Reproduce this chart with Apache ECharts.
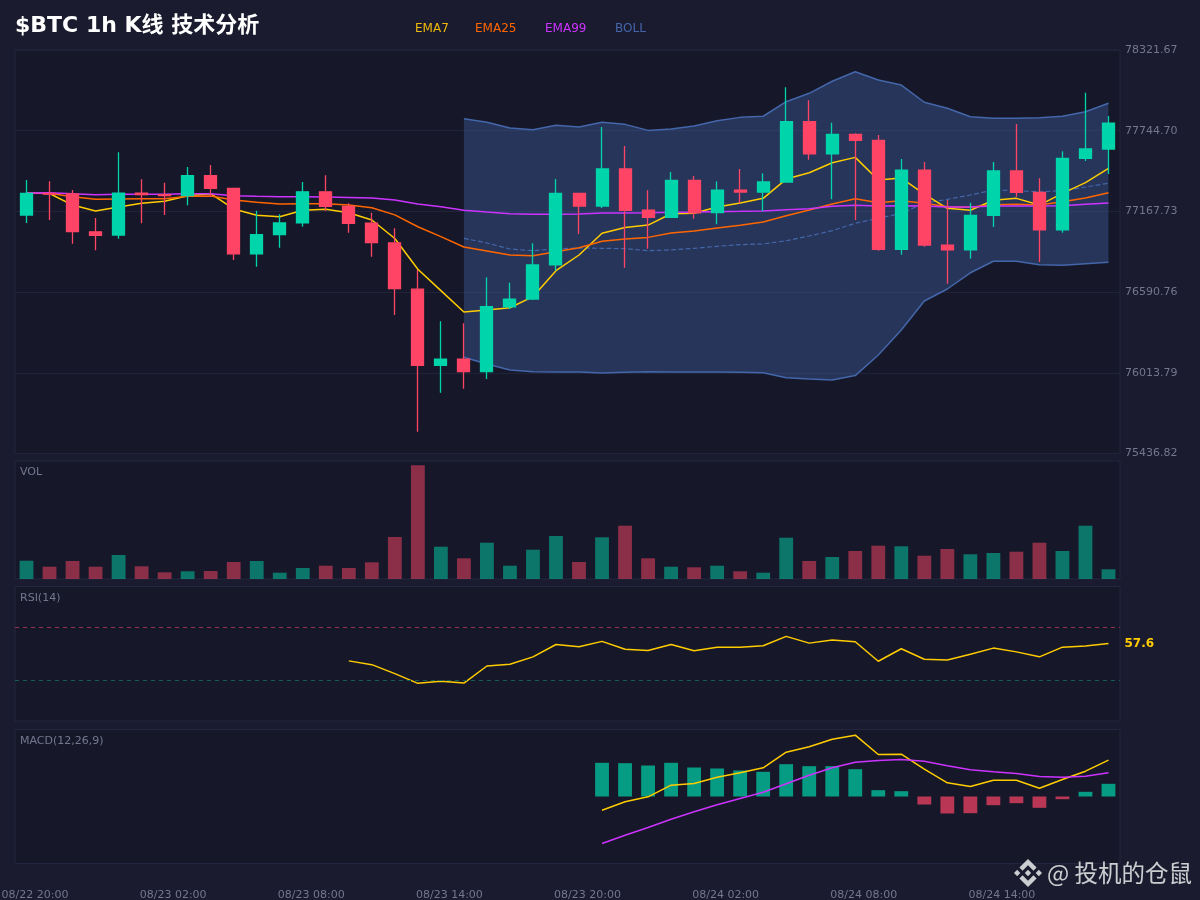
<!DOCTYPE html>
<html><head><meta charset="utf-8">
<style>html,body{margin:0;padding:0;background:#1a1b2e}#c{width:1200px;height:900px}</style>
<script src="https://cdn.jsdelivr.net/npm/echarts@6/dist/echarts.min.js"></script>
</head><body><div id="c"></div>
<script>
const categories = ["08/22 20:00","08/22 21:00","08/22 22:00","08/22 23:00","08/23 00:00","08/23 01:00","08/23 02:00","08/23 03:00","08/23 04:00","08/23 05:00","08/23 06:00","08/23 07:00","08/23 08:00","08/23 09:00","08/23 10:00","08/23 11:00","08/23 12:00","08/23 13:00","08/23 14:00","08/23 15:00","08/23 16:00","08/23 17:00","08/23 18:00","08/23 19:00","08/23 20:00","08/23 21:00","08/23 22:00","08/23 23:00","08/24 00:00","08/24 01:00","08/24 02:00","08/24 03:00","08/24 04:00","08/24 05:00","08/24 06:00","08/24 07:00","08/24 08:00","08/24 09:00","08/24 10:00","08/24 11:00","08/24 12:00","08/24 13:00","08/24 14:00","08/24 15:00","08/24 16:00","08/24 17:00","08/24 18:00","08/24 19:00"];
const opens = [77142,77297,77292,77022,76999,77299,77288,77280,77423,77333,76865,77001,77085,77308,77204,77083,76942,76612,76067,76112,76022,76486,76541,76785,77297,77206,77471,77176,77126,77390,77160,77319,77306,77378,77809,77580,77719,77676,76897,77462,76927,76892,77140,77457,77304,77035,77547,77614];
const closes = [77297,77291,77023,76997,77299,77287,77280,77423,77333,76865,77001,77085,77308,77204,77083,76944,76615,76067,76112,76022,76486,76541,76785,77297,77206,77471,77176,77126,77390,77158,77319,77306,77378,77809,77580,77719,77676,76897,77462,76927,76892,77140,77457,77304,77035,77547,77614,77798];
const lows = [77085,77106,76937,76890,76973,77083,77142,77211,77273,76820,76772,76908,77058,77173,77015,76844,76427,75593,75872,75900,75969,76470,76534,76744,77006,77192,76765,76901,77124,77116,77076,77226,77168,77378,77537,77254,77106,76887,76858,76915,76651,76830,77056,77273,76806,77015,77528,77435];
const highs = [77392,77383,77321,77121,77590,77397,77373,77485,77499,77335,77173,77147,77378,77426,77226,77158,77047,76749,76382,76368,76697,76658,76940,77399,77301,77771,77635,77319,77449,77421,77383,77471,77440,78055,77962,77802,77726,77714,77542,77521,77249,77230,77521,77793,77404,77597,78016,77850];
const ema7 = [77299,77296,77213,77171,77199,77226,77240,77280,77294,77185,77140,77130,77176,77183,77158,77106,76974,76754,76601,76448,76463,76479,76558,76744,76856,77011,77053,77070,77151,77154,77199,77228,77261,77399,77444,77516,77554,77392,77406,77292,77190,77176,77247,77261,77213,77297,77373,77476];
const ema25 = [77299,77297,77273,77254,77256,77258,77258,77276,77278,77249,77233,77221,77223,77223,77213,77194,77143,77058,76987,76913,76885,76856,76851,76880,76908,76955,76970,76982,77013,77028,77049,77068,77092,77136,77178,77221,77258,77230,77244,77226,77201,77197,77216,77218,77213,77237,77263,77301];
const ema99 = [77299,77301,77294,77287,77290,77290,77290,77294,77294,77280,77276,77273,77273,77271,77268,77263,77249,77221,77201,77176,77163,77151,77147,77147,77149,77156,77156,77158,77161,77163,77166,77168,77171,77179,77187,77204,77211,77206,77208,77206,77199,77199,77206,77206,77206,77208,77218,77228];
const _ = null;
const bollUpper = [_,_,_,_,_,_,_,_,_,_,_,_,_,_,_,_,_,_,_,77830,77805,77764,77752,77783,77771,77805,77790,77747,77757,77778,77816,77840,77848,77952,78012,78098,78166,78107,78071,77948,77905,77845,77833,77833,77838,77848,77880,77941];
const bollMid = [_,_,_,_,_,_,_,_,_,_,_,_,_,_,_,_,_,_,_,76975,76942,76899,76887,76899,76906,76904,76901,76887,76892,76904,76918,76930,76935,76958,76992,77030,77083,77118,77154,77226,77254,77285,77321,77316,77308,77316,77342,77369];
const bollLower = [_,_,_,_,_,_,_,_,_,_,_,_,_,_,_,_,_,_,_,76125,76077,76034,76022,76019,76019,76012,76017,76021,76019,76019,76019,76017,76014,75979,75969,75962,75994,76141,76320,76527,76613,76729,76811,76811,76787,76782,76794,76804];
const volumes = [183,123,180,123,240,127,67,77,80,170,180,63,110,133,110,167,420,1137,323,207,363,133,293,430,170,417,533,207,123,117,133,77,63,413,180,220,280,333,327,233,300,247,260,273,363,280,533,97];
const rsi = [_,_,_,_,_,_,_,_,_,_,_,_,_,_,44.7,41.9,35.2,28.0,29.5,28.2,40.9,42.2,47.7,56.9,55.2,59.2,53.4,52.4,56.9,52.2,54.9,54.9,55.9,62.9,57.9,60.2,58.9,44.4,53.7,45.9,45.4,49.7,54.2,51.4,47.7,54.9,55.7,57.6];
const macdLine = [_,_,_,_,_,_,_,_,_,_,_,_,_,_,_,_,_,_,_,_,_,_,_,_,_,-34.2,-13.3,-0.8,28.3,32.5,48.3,59.2,71.7,110.8,124.2,143.3,153.3,105,105.8,68.3,34.2,25,40.8,40.8,20.8,42.5,63.3,90.8];
const signalLine = [_,_,_,_,_,_,_,_,_,_,_,_,_,_,_,_,_,_,_,_,_,_,_,_,_,-117.5,-96.7,-77.5,-56.7,-38.3,-20.8,-5,10.8,31.7,53.3,71.7,85.8,90,92.5,88.3,76.7,66.7,61.7,57.5,50,48.3,50.8,59.2];
const macdHist = [_,_,_,_,_,_,_,_,_,_,_,_,_,_,_,_,_,_,_,_,_,_,_,_,_,84.2,83.3,77.5,84.2,72.5,70,65,61.7,80.8,75.8,75.8,68.3,15.8,13.3,-20,-42.5,-41.7,-21.7,-16.7,-28.3,-6.7,11.7,31.7];
const priceTicks = [75436.82,76013.79,76590.76,77167.73,77744.70,78321.67];
const rsiLevels = [70,30];

const UP='#00d4aa', DOWN='#ff4466', BG='#1a1b2e', PANEL='#161829', BORDER='#23263f', GRIDLINE='#20233a';
const FONT='"DejaVu Sans","Noto Sans CJK SC",sans-serif';
const TXT='#74778e';
const BOLLC='#4466aa';
const WM='rgba(255,255,255,0.78)';
const grids=[{top:50,height:403.5},{top:461,height:118},{top:586.5,height:134.5},{top:729.5,height:134}].map(g=>({left:15,width:1105,show:true,outerBoundsMode:'none',backgroundColor:PANEL,borderColor:BORDER,borderWidth:1,...g}));
const xAxes=grids.map((g,i)=>({type:'category',gridIndex:i,data:categories,boundaryGap:true,
  axisLine:{show:false},axisTick:{show:false},splitLine:{show:false},
  axisLabel:i<3?{show:false}:{show:true,interval:5,color:TXT,fontSize:11,fontFamily:FONT,margin:26,padding:[0,0,0,17],hideOverlap:false}}));
const yAxes=[
 {type:'value',gridIndex:0,position:'right',min:75436.82,max:78321.67,scale:true,
  axisLine:{show:false},axisTick:{show:false,customValues:priceTicks},
  axisLabel:{customValues:priceTicks,color:TXT,fontSize:11,fontFamily:FONT,margin:5,padding:[5,0,0,0],formatter:v=>v.toFixed(2)},
  splitLine:{show:true,lineStyle:{color:GRIDLINE,width:1}}},
 {type:'value',gridIndex:1,min:0,max:1180,show:false,splitLine:{show:false}},
 {type:'value',gridIndex:2,min:0,max:100,show:false,splitLine:{show:false}},
 {type:'value',gridIndex:3,min:-167.5,max:167.5,show:false,splitLine:{show:false}}];
const line=(name,data,color,extra)=>Object.assign({name,type:'line',data,symbol:'none',xAxisIndex:0,yAxisIndex:0,z:2,
  lineStyle:{color,width:1.5},itemStyle:{color},connectNulls:false,silent:true},extra||{});
const legendOf=(name,color,left)=>({left,top:23,padding:0,icon:'none',itemWidth:0,itemHeight:12,selectedMode:false,
  textStyle:{fontSize:12,fontFamily:FONT,color},data:[{name,textStyle:{color}}]});
const subTitle=(text,top)=>({text,left:20,top,padding:0,textStyle:{color:TXT,fontSize:11,fontWeight:'normal',fontFamily:FONT}});
const option={
 backgroundColor:BG,animation:false,
 textStyle:{fontFamily:FONT},
 title:[
  {text:'$BTC 1h K线 技术分析',left:15,top:15,padding:0,textStyle:{color:'#ffffff',fontSize:22,fontWeight:'bold',fontFamily:FONT}},
  subTitle('VOL',467),subTitle('RSI(14)',593),subTitle('MACD(12,26,9)',736)],
 legend:[legendOf('EMA7','#f0b90b',410),legendOf('EMA25','#ff6600',470),legendOf('EMA99','#cc33ff',540),legendOf('BOLL',BOLLC,610)],
 grid:grids,xAxis:xAxes,yAxis:yAxes,
 graphic:[
  {type:'group',x:1014,y:859,scaleX:0.2212,scaleY:0.2212,silent:true,z:50,children:[
    {type:'polygon',shape:{points:[[38.73,53.2],[63.3,28.63],[87.89,53.21],[102.2,38.91],[63.3,0],[24.42,38.9]]},style:{fill:WM}},
    {type:'polygon',shape:{points:[[0,63.31],[14.3,49],[28.6,63.3],[14.3,77.61]]},style:{fill:WM}},
    {type:'polygon',shape:{points:[[48.8,63.3],[63.3,48.8],[77.8,63.3],[63.3,77.8]]},style:{fill:WM}},
    {type:'polygon',shape:{points:[[98,63.31],[112.3,49],[126.6,63.31],[112.3,77.61]]},style:{fill:WM}},
    {type:'polygon',shape:{points:[[38.73,73.4],[63.3,97.97],[87.89,73.39],[102.2,87.69],[63.3,126.6],[24.42,87.7]]},style:{fill:WM}}
  ]},
  {type:'text',x:1047,y:873,silent:true,z:50,style:{text:'@ 投机的仓鼠',fill:WM,font:'23.5px "Noto Sans CJK SC"',textVerticalAlign:'middle',shadowColor:'rgba(0,0,0,0.5)',shadowBlur:2,shadowOffsetX:1,shadowOffsetY:1}}
 ],
 series:[
  line('BOLL',bollLower,BOLLC,{stack:'band',lineStyle:{width:0,opacity:0},z:1}),
  line('BOLL',bollUpper.map((u,i)=>u==null?null:u-bollLower[i]),BOLLC,{stack:'band',lineStyle:{width:0,opacity:0},areaStyle:{color:'rgba(68,102,170,0.38)',opacity:1},z:1}),
  line('BOLL',bollUpper,BOLLC,{lineStyle:{color:BOLLC,width:1.5}}),
  line('BOLL',bollLower,BOLLC,{lineStyle:{color:BOLLC,width:1.5}}),
  line('BOLL',bollMid,BOLLC,{lineStyle:{color:BOLLC,width:1.2,type:'dashed'}}),
  line('EMA7',ema7,'#ffcc00'),
  line('EMA25',ema25,'#ff6600'),
  line('EMA99',ema99,'#cc33ff'),
  {name:'K',type:'candlestick',xAxisIndex:0,yAxisIndex:0,z:3,barWidth:12.5,silent:true,
   data:opens.map((o,i)=>[o,closes[i],lows[i],highs[i]]),
   itemStyle:{color:UP,color0:DOWN,borderColor:UP,borderColor0:DOWN,borderWidth:1.3}},
  {name:'VOL',type:'bar',xAxisIndex:1,yAxisIndex:1,barWidth:'60%',silent:true,
   data:volumes.map((v,i)=>({value:v,itemStyle:{color:closes[i]>=opens[i]?UP:DOWN,opacity:0.5}}))},
  line('RSI',rsi,'#ffcc00',{xAxisIndex:2,yAxisIndex:2,
   endLabel:{show:true,distance:16,color:'#ffcc00',fontSize:12,fontWeight:'bold',fontFamily:FONT,padding:[5,0,0,0],formatter:p=>Number(p.value).toFixed(1)},
   markLine:{silent:true,symbol:'none',label:{show:false},animation:false,
    data:[{yAxis:rsiLevels[0],lineStyle:{color:'#96304f',type:[4,4],width:1}},{yAxis:rsiLevels[1],lineStyle:{color:'#0f5f57',type:[4,4],width:1}}]}}),
  {name:'HIST',type:'bar',xAxisIndex:3,yAxisIndex:3,barWidth:'60%',silent:true,
   data:macdHist.map(v=>v==null?null:({value:v,itemStyle:{color:v>=0?UP:DOWN,opacity:0.7}}))},
  line('MACD',macdLine,'#ffcc00',{xAxisIndex:3,yAxisIndex:3}),
  line('SIGNAL',signalLine,'#cc33ff',{xAxisIndex:3,yAxisIndex:3})
 ]
};
const chart=echarts.init(document.getElementById('c'),null,{renderer:'canvas',width:1200,height:900});
chart.setOption(option);
</script></body></html>
